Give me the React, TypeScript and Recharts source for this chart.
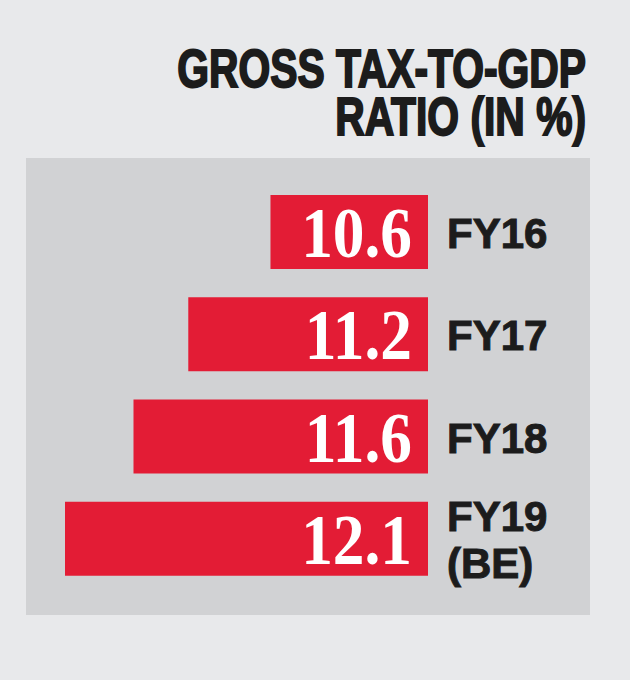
import React from "react";
import { BarChart, Bar, XAxis, YAxis, LabelList } from "recharts";

const years = ["FY16", "FY17", "FY18", "FY19\n(BE)"];
const ratios = [10.6, 11.2, 11.6, 12.1];
const titleLines = ["GROSS TAX-TO-GDP", "RATIO (IN %)"];

const data = years.map((year, i) => ({ year, ratio: ratios[i] }));

const RED = "#e31c35";
const INK = "#1c1c1c";
const SANS = "'Liberation Sans', Arial, sans-serif";
const SERIF = "'Liberation Serif', 'Times New Roman', serif";

// year labels on the right, may be two lines
const YearTick = (props: any) => {
  const { x, y, payload } = props;
  const lines = String(payload.value).split("\n");
  const lineHeight = 47;
  const startY = y - ((lines.length - 1) * lineHeight) / 2 + 16;
  return (
    <g>
      {lines.map((line, i) => (
        <text
          key={line}
          x={x}
          y={startY + i * lineHeight}
          textAnchor="start"
          fill={INK}
          stroke={INK}
          strokeWidth={1}
          fontFamily={SANS}
          fontWeight={700}
          fontSize={42}
        >
          {line}
        </text>
      ))}
    </g>
  );
};

// white value inside the right end of each bar
const ValueLabel = (props: any) => {
  const { x, y, width, height, value } = props;
  const right = Math.max(x, x + width) - 16;
  const baseline = y + height / 2 + 25;
  return (
    <text
      transform={`translate(${right},${baseline}) scale(0.88,1)`}
      textAnchor="end"
      fill="#fff"
      fontFamily={SERIF}
      fontWeight={700}
      fontSize={72}
    >
      {value}
    </text>
  );
};

export default function App() {
  return (
    <div
      style={{
        position: "absolute",
        left: 0,
        top: 0,
        width: 630,
        height: 680,
        background: "#e8e9eb",
      }}
    >
      <svg width={630} height={150} style={{ position: "absolute", left: 0, top: 0 }}>
        {titleLines.map((t, i) => (
          <text
            key={t}
            transform={`translate(586,${87 + i * 48}) scale(0.77,1)`}
            textAnchor="end"
            fill={INK}
            stroke={INK}
            strokeWidth={2}
            fontFamily={SANS}
            fontWeight={700}
            fontSize={53}
          >
            {t}
          </text>
        ))}
      </svg>
      <div
        style={{
          position: "absolute",
          left: 26,
          top: 158,
          width: 564,
          height: 457,
          background: "#d1d2d4",
        }}
      >
        <BarChart
          width={564}
          height={457}
          data={data}
          layout="vertical"
          margin={{ top: 23, right: 0, bottom: 25, left: 39 }}
        >
          <XAxis
            type="number"
            hide
            reversed
            domain={[9.45, 12.1]}
            allowDataOverflow
          />
          <YAxis
            type="category"
            dataKey="year"
            orientation="right"
            width={162}
            axisLine={false}
            tickLine={false}
            tickSize={0}
            tickMargin={19}
            interval={0}
            tick={<YearTick />}
          />
          <Bar dataKey="ratio" fill={RED} barSize={74} isAnimationActive={false}>
            <LabelList dataKey="ratio" content={ValueLabel} />
          </Bar>
        </BarChart>
      </div>
    </div>
  );
}
